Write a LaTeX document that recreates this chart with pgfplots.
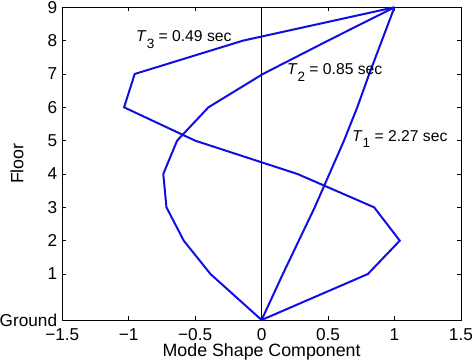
\documentclass[border=0pt]{standalone}
\usepackage{fontspec}
\setmainfont{Liberation Sans}
\usepackage{pgfplots}
\pgfplotsset{compat=1.18}
\newcommand{\Tsub}[1]{\textit{T}\raisebox{-6.5pt}{\fontsize{13.5}{14}\selectfont #1}}
\definecolor{mblue}{RGB}{15,15,225}
\begin{document}
\fontsize{17}{20}\selectfont
\begin{tikzpicture}
\begin{axis}[
  scale only axis,
  width=398.6pt, height=312.7pt,
  at={(0,0)}, anchor=south west,
  xmin=-1.5, xmax=1.5, ymin=-0.38, ymax=9,
  xtick={-1.5,-1,-0.5,0,0.5,1,1.5},
  xticklabels={−1.5,−1,−0.5,0,0.5,1,1.5},
  ytick={-0.38,1,2,3,4,5,6,7,8,9},
  yticklabels={Ground,1,2,3,4,5,6,7,8,9},
  tick align=inside, xtick pos=both, ytick pos=both,
  major tick length=4pt,
  tick style={black, line width=0.5pt},
  axis line style={black, line width=0.5pt},
  every tick label/.append style={font=\fontsize{17.2}{20}\selectfont},
  xticklabel style={anchor=base, yshift=-20.7pt, inner sep=0pt},
  yticklabel style={anchor=east, inner sep=0pt, xshift=-5pt},
  xlabel={Mode Shape Component},
  ylabel={Floor},
  label style={font=\fontsize{17.8}{20}\selectfont},
  xlabel style={at={([yshift=-36.7pt]axis description cs:0.5,0)}, anchor=base},
  ylabel style={at={([xshift=-39pt]axis description cs:0,0.5)}, anchor=base, rotate=0},
  clip=false,
]
\addplot[black, line width=0.5pt] coordinates {(0,-0.38) (0,9)};
% Mode 1
\addplot[mblue, line width=2pt] coordinates {
(0,-0.38) (0.16,1) (0.28,2) (0.40,3) (0.51,4) (0.62,5) (0.72,6) (0.81,7) (0.905,8) (1.0,9)};
% Mode 2
\addplot[mblue, line width=2pt] coordinates {
(0,-0.38) (-0.385,1) (-0.586,2) (-0.716,3) (-0.74,4) (-0.636,5) (-0.40,6) (0.01,7) (0.50,8) (1.0,9)};
% Mode 3
\addplot[mblue, line width=2pt] coordinates {
(0,-0.38) (0.80,1) (1.04,2) (0.847,3) (0.27,4) (-0.50,5) (-1.035,6) (-0.955,7) (-0.14,8) (1.0,9)};
\node[anchor=base west, inner sep=0pt, font=\fontsize{15.7}{18}\selectfont] at (axis cs:-0.945,7.97) {\Tsub{3} = 0.49 sec};
\node[anchor=base west, inner sep=0pt, font=\fontsize{15.7}{18}\selectfont] at (axis cs:0.19,6.98) {\Tsub{2} = 0.85 sec};
\node[anchor=base west, inner sep=0pt, font=\fontsize{15.7}{18}\selectfont] at (axis cs:0.68,4.98) {\Tsub{1} = 2.27 sec};
\end{axis}
\pgfresetboundingbox
\path (-62.3pt,-40pt) rectangle (411.7pt,320pt);
\end{tikzpicture}
\end{document}
